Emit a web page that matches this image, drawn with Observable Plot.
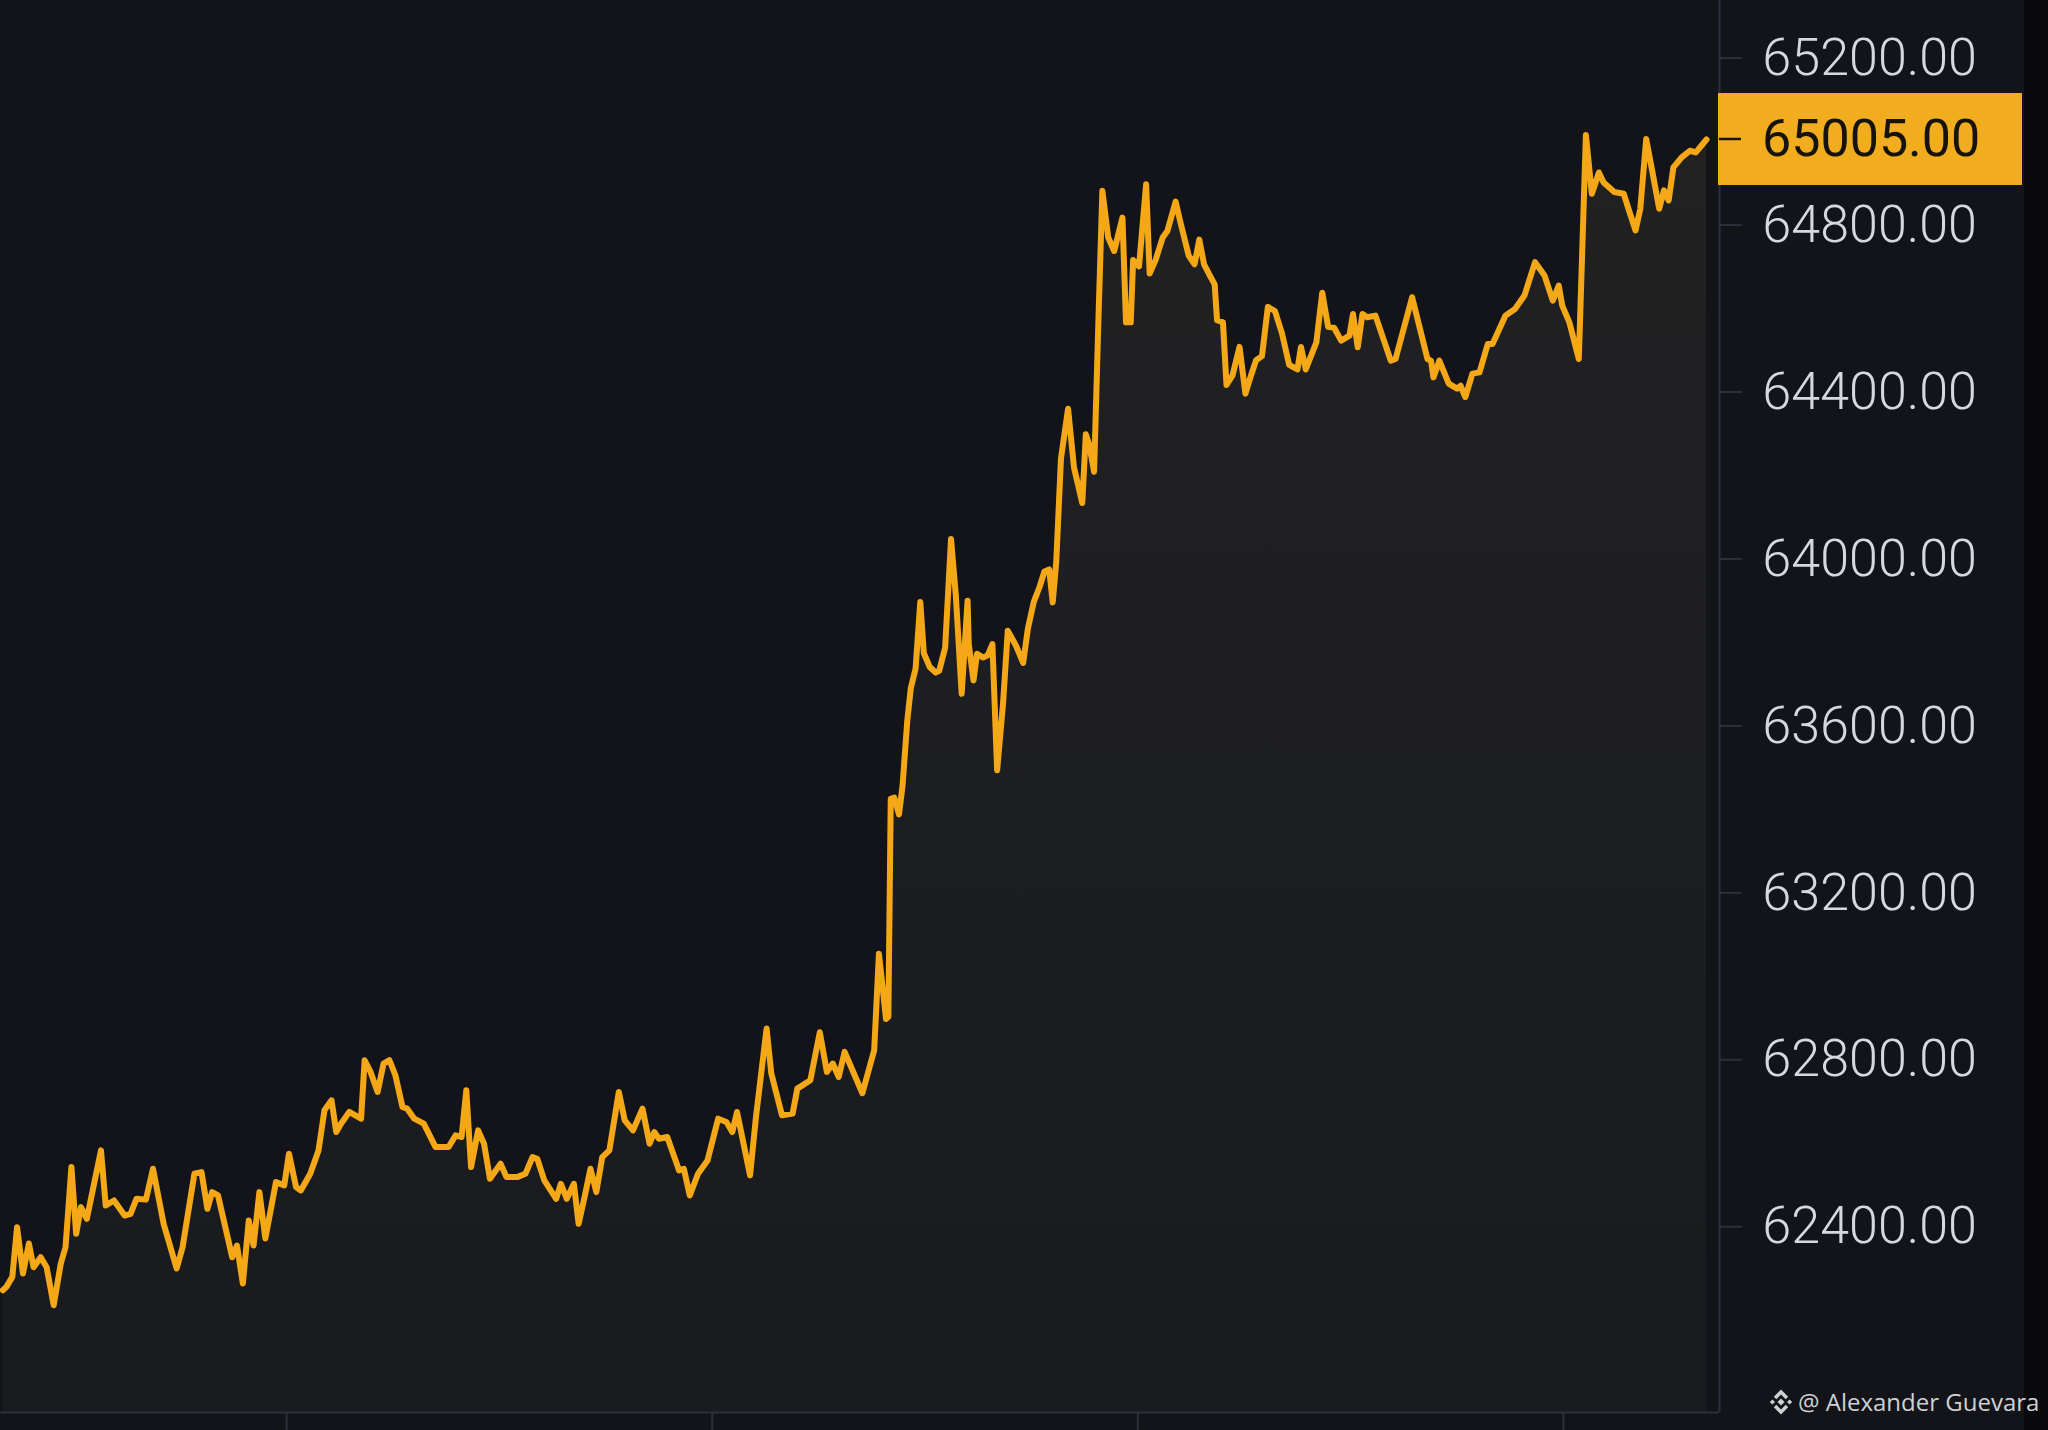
<!DOCTYPE html>
<html>
<head>
<meta charset="utf-8">
<script src="https://cdn.jsdelivr.net/npm/d3@7"></script>
<script src="https://cdn.jsdelivr.net/npm/@observablehq/plot@0.6"></script>
<style>
html, body { margin: 0; padding: 0; background: #121419; }
#chart { width: 2048px; height: 1430px; overflow: hidden; }
</style>
</head>
<body>
<div id="chart"></div>
<script>
// time since start of the 24h window (minutes)
const times = [0,3,8,12,17,22,26,32,37,43,49,53,58,62,66,71,83,87,94,103,108,113,121,127,136,147,152,162,168,173,177,182,194,198,203,208,212,217,222,231,238,242,248,252,260,267,272,278,282,286,293,303,306,311,317,322,327,332,338,342,348,356,366,377,383,388,392,396,402,407,412,421,426,435,442,448,452,458,468,472,477,483,487,492,497,502,507,
513,521,526,533,541,547,551,555,562,572,576,581,588,596,605,612,617,621,632,637,646,650,659,668,672,683,691,697,702,707,712,727,737,741,747,749,751,754,758,761,765,768,772,776,779,784,789,792,797,802,806,811,816,817,821,824,829,833,837,841,846,850,857,863,867,872,877,881,885,888,891,
895,901,906,913,916,919,923,927,930,935,940,947,950,954,956,961,967,970,975,981,985,992,996,1003,1008,1012,1016,1020,1025,1027,1032,1035,1040,1046,1051,1055,1060,1065,1070,1076,1082,1088,1095,1098,1102,1111,1116,1121,1126,1132,1139,1142,1146,1150,1154,1161,1174,1178,1192,1205,1208,1210,1215,1223,1230,1233,1237,1243,1249,1256,1260,1271,1279,1287,1296,1304,1311,1316,1319,1325,1333,1339,1344,1350,1354,1363,1371,1375,1381,1385,1390,1395,1401,1405,1409,1413,1420,1427,1432,1441];

// price (USDT)
const prices = [62248,62256,62280,62399,62288,62360,62303,62327,62303,62212,62312,62351,62543,62383,62447,62419,62583,62451,62463,62427,62431,62467,62465,62539,62407,62300,62351,62527,62531,62443,62483,62475,62327,62355,62264,62415,62355,62483,62372,62507,62499,62575,62495,62487,62527,62583,62679,62703,62627,62647,62675,62659,62799,62771,62723,62791,62799,62763,62687,62683,62659,62647,62591,62591,62619,62615,62727,62543,62631,62599,62515,62551,62519,62519,62527,62567,62563,62511,62467,62503,62467,62503,62407,62471,62539,62483,62567,
62583,62723,62655,62631,62683,62599,62627,62611,62615,62535,62539,62475,62527,62559,62659,62651,62627,62675,62523,62663,62875,62767,62667,62671,62731,62751,62866,62771,62791,62759,62819,62720,62823,63054,62898,62903,63425,63428,63388,63457,63613,63691,63737,63897,63774,63741,63728,63732,63787,64048,63915,63677,63900,63796,63709,63773,63764,63769,63796,63494,63654,63828,63792,63751,63833,63897,63934,63970,63975,63896,63993,
64241,64360,64219,64134,64299,64273,64209,64604,64882,64770,64738,64818,64567,64567,64716,64701,64898,64684,64716,64770,64786,64856,64807,64727,64706,64765,64706,64684,64658,64572,64567,64417,64439,64508,64396,64433,64476,64486,64604,64594,64540,64465,64454,64508,64454,64519,64638,64556,64554,64523,64535,64587,64507,64587,64579,64583,64475,64479,64627,64479,64475,64435,64475,64420,64408,64415,64388,64444,64447,64515,64515,64583,64599,64631,64711,64679,64619,64655,64607,64567,64479,65016,64875,64926,64902,64879,64875,64839,64787,64839,65006,64931,64839,64883,64859,64938,64962,64978,64974,65005];

const yTicks = [62400, 62800, 63200, 63600, 64000, 64400, 64800, 65200];
const xTicks = [240, 600, 960, 1320];
const lastPrice = 65005;
const watermark = "@ Alexander Guevara";

const data = times.map((t, i) => ({t, price: prices[i]}));

const W = 2048, H = 1430, plotRight = 1719;
const xDomain = [-2, 1452];
const yDomain = [61955, 65338];
const axisColor = "#2c303d";
const lineColor = "#f5a817";

const defs = () => {
  const g = d3.create("svg:defs");
  const lg = g.append("linearGradient").attr("id", "areaGrad")
    .attr("x1", 0).attr("y1", 0).attr("x2", 0).attr("y2", 1);
  lg.append("stop").attr("offset", "0%").attr("stop-color", "#ecd09a").attr("stop-opacity", 0.07);
  lg.append("stop").attr("offset", "100%").attr("stop-color", "#d8d0c8").attr("stop-opacity", 0.035);
  return g.node();
};

const plot = Plot.plot({
  width: W,
  height: H,
  marginLeft: 0,
  marginRight: W - plotRight,
  marginTop: 0,
  marginBottom: 18,
  style: {background: "#121419", color: "#d6d8dd", fontFamily: "Roboto, sans-serif", overflow: "visible"},
  x: {domain: xDomain, ticks: xTicks},
  y: {domain: yDomain, ticks: yTicks},
  marks: [
    defs,
    Plot.areaY(data, {x: "t", y1: yDomain[0], y2: "price", fill: "url(#areaGrad)"}),
    Plot.ruleX([xDomain[1]], {stroke: axisColor, strokeWidth: 2}),
    Plot.ruleY([yDomain[0]], {stroke: axisColor, strokeWidth: 2}),
    Plot.axisY({
      anchor: "right", ticks: yTicks, tickSize: 22, tickPadding: 21,
      tickFormat: d => d.toFixed(2), fontSize: 52, fontWeight: 300,
      stroke: axisColor, strokeWidth: 2, fill: "#d6d8dd", label: null
    }),
    Plot.axisX({ticks: xTicks, tickSize: 18, tickFormat: () => "", stroke: axisColor, strokeWidth: 2, label: null}),
    Plot.lineY(data, {x: "t", y: "price", stroke: lineColor, strokeWidth: 6})
  ]
});

document.getElementById("chart").appendChild(plot);

const svg = d3.select(plot);
// dark strip at the far right edge
svg.insert("rect", ":first-child")
  .attr("x", 2024).attr("y", 0).attr("width", 24).attr("height", H)
  .attr("fill", "#09090c");

// last price marker
const yy = plot.scale("y").apply(lastPrice);
const g = svg.append("g").attr("text-anchor", "start");
g.append("rect").attr("x", 1718).attr("y", yy - 46).attr("width", 304).attr("height", 92).attr("fill", "#f2ad1f");
g.append("line").attr("x1", 1719).attr("x2", 1741).attr("y1", yy).attr("y2", yy).attr("stroke", "#151515").attr("stroke-width", 2.5);
g.append("text").attr("x", 1762).attr("y", yy).attr("dy", "0.32em").attr("text-anchor", "start")
  .attr("font-family", "Roboto, sans-serif").attr("font-size", 52).attr("font-weight", 400)
  .attr("fill", "#16130c").text(lastPrice.toFixed(2));

// watermark
const wm = svg.append("g").attr("fill", "#cfd0d3").attr("text-anchor", "start");
const logo = wm.append("g").attr("transform", "translate(1781,1402)");
logo.append("path").attr("d", "M0,-3.6 L3.6,0 L0,3.6 L-3.6,0 Z");
logo.append("path").attr("d", "M-8.6,-2.6 L-6,0 L-8.6,2.6 L-11.2,0 Z");
logo.append("path").attr("d", "M8.6,-2.6 L11.2,0 L8.6,2.6 L6,0 Z");
logo.append("path").attr("d", "M0,-12.5 L7.2,-5.3 L4.7,-2.8 L0,-7.5 L-4.7,-2.8 L-7.2,-5.3 Z");
logo.append("path").attr("d", "M0,12.5 L7.2,5.3 L4.7,2.8 L0,7.5 L-4.7,2.8 L-7.2,5.3 Z");
wm.append("text").attr("x", 1798).attr("y", 1411).attr("text-anchor", "start")
  .attr("font-family", "'Open Sans', sans-serif").attr("font-size", 24)
  .text(watermark);
</script>
</body>
</html>
